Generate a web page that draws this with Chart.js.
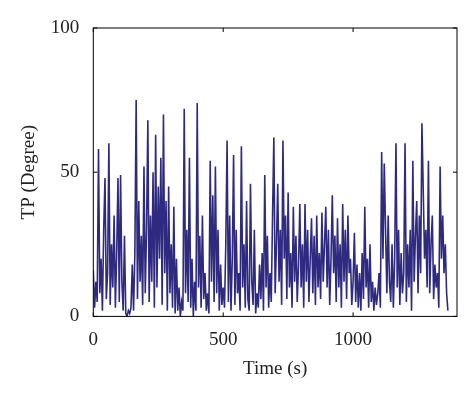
<!DOCTYPE html>
<html><head><meta charset="utf-8">
<script src="https://cdn.jsdelivr.net/npm/chart.js@4"></script>
<style>body{margin:0;background:#fff}#wrap{width:474px;height:400px}</style>
</head><body><div id="wrap"><canvas id="c"></canvas></div>
<script>
const timeStep = 5;
const tpValues = [
  16,3,12,5,58,8,20,2,30,48,6,15,60,4,25,10,35,3,22,48,
  5,49,12,2,28,1,0,2,1,3,18,2,22,75,6,40,12,28,4,52,
  8,30,68,5,35,12,50,3,63,10,45,20,55,4,70,15,40,2,45,8,
  25,3,38,1,20,2,10,0,5,2,72,8,30,5,55,3,20,0,12,2,
  74,10,28,3,35,6,15,2,8,1,54,12,42,5,52,8,30,2,18,4,
  10,3,25,61,5,35,2,20,56,4,30,8,15,2,59,10,25,3,40,6,
  2,46,12,4,30,1,8,3,18,6,22,2,49,10,28,3,15,5,35,62,
  8,25,46,12,30,4,61,20,35,6,43,10,22,3,38,12,28,5,18,39,
  10,25,3,39,12,30,5,20,34,8,28,4,35,10,22,6,36,12,25,38,
  10,30,4,20,42,15,28,5,34,10,25,3,39,12,30,6,35,15,20,4,
  12,29,5,18,3,15,2,22,6,38,10,20,3,25,5,12,2,10,4,8,
  15,3,57,20,53,30,8,35,12,5,25,3,20,60,10,30,4,22,8,15,
  60,5,25,10,30,2,54,12,28,40,8,35,15,67,44,20,30,10,54,8,
  25,35,6,18,10,15,3,52,20,35,15,25,8,2
];
const xTicks = [0, 500, 1000];
const yTicks = [0, 50, 100];
const points = tpValues.map((v, i) => ({ x: i * timeStep, y: v }));

const boxPlugin = {
  id: 'box',
  afterDraw(chart) {
    const { ctx, chartArea: a } = chart;
    ctx.save();
    ctx.strokeStyle = '#000';
    ctx.lineWidth = 1;
    ctx.strokeRect(a.left, a.top, a.right - a.left, a.bottom - a.top);
    ctx.beginPath();
    xTicks.forEach(t => {
      const px = chart.scales.x.getPixelForValue(t);
      ctx.moveTo(px, a.bottom); ctx.lineTo(px, a.bottom - 4);
      ctx.moveTo(px, a.top); ctx.lineTo(px, a.top + 4);
    });
    yTicks.forEach(t => {
      const py = chart.scales.y.getPixelForValue(t);
      ctx.moveTo(a.left, py); ctx.lineTo(a.left + 4, py);
      ctx.moveTo(a.right, py); ctx.lineTo(a.right - 4, py);
    });
    ctx.stroke();
    ctx.restore();
  }
};

const font = { family: 'Liberation Serif', size: 19 };
new Chart(document.getElementById('c'), {
  type: 'line',
  plugins: [boxPlugin],
  data: { datasets: [{ data: points, borderColor: '#2e2a80', borderWidth: 1.6, pointRadius: 0, tension: 0 }] },
  options: {
    responsive: true, maintainAspectRatio: false, animation: false,
    layout: { padding: { top: 28, right: 17, left: 14, bottom: 16 } },
    plugins: { legend: { display: false }, tooltip: { enabled: false } },
    scales: {
      x: {
        type: 'linear', min: 0, max: 1400,
        afterBuildTicks: s => { s.ticks = xTicks.map(v => ({ value: v })); },
        grid: { display: false }, border: { display: false },
        ticks: { font, color: '#222', padding: 4, callback: v => String(v) },
        title: { display: true, text: 'Time (s)', font, color: '#222', padding: { top: 2 } }
      },
      y: {
        min: 0, max: 100,
        afterBuildTicks: s => { s.ticks = yTicks.map(v => ({ value: v })); },
        grid: { display: false }, border: { display: false },
        ticks: { font, color: '#222', padding: 6, callback: v => String(v) },
        title: { display: true, text: 'TP (Degree)', font, color: '#222', padding: { bottom: 4 } }
      }
    }
  }
});
</script></body></html>
